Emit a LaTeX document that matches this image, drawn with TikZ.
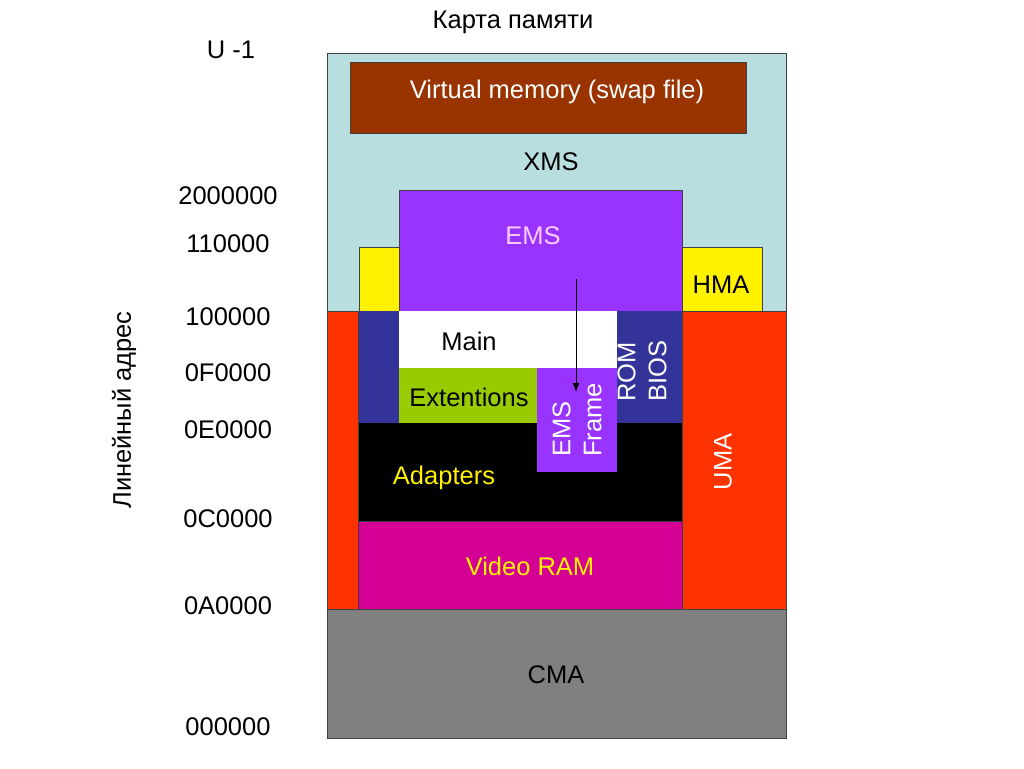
\documentclass[tikz,border=0pt]{standalone}
\usepackage{fontspec}
\setmainfont{Liberation Sans}
\usetikzlibrary{arrows.meta}
\definecolor{xmsblue}{HTML}{B8DEE0}
\definecolor{swapbrown}{HTML}{993300}
\definecolor{emspurple}{HTML}{9933FF}
\definecolor{umared}{HTML}{FF3300}
\definecolor{biosblue}{HTML}{333399}
\definecolor{extgreen}{HTML}{99CC00}
\definecolor{vramred}{HTML}{D40096}
\definecolor{cmagray}{HTML}{808080}
\definecolor{emspink}{HTML}{FFCCFF}

\begin{document}
\begin{tikzpicture}[x=1pt, y=-1pt,
  blk/.style={draw=black!75, line width=0.8pt},
  lbl/.style={font=\fontsize{25.5}{31}\selectfont, inner sep=0pt}]
\useasboundingbox (0,0) rectangle (1024,768);
% big areas
\filldraw[blk, fill=xmsblue] (327,53) rectangle (786,311);
\filldraw[blk, fill=umared] (327,311) rectangle (786,609);
\filldraw[blk, fill=cmagray] (327,609) rectangle (786,738);
\filldraw[blk, fill=swapbrown] (350,62) rectangle (746,133);
\filldraw[blk, fill=yellow] (359,247) rectangle (399,311);
\filldraw[blk, fill=yellow] (682,247) rectangle (762,311);
\filldraw[blk, fill=emspurple] (399,190) rectangle (682,311);
% first megabyte, upper part
\fill[biosblue] (358,311) rectangle (682,423);
\fill[white] (399,311) rectangle (617,368);
\fill[extgreen] (399,368) rectangle (537,423);
\fill[black] (358,423) rectangle (682,521);
\fill[emspurple] (537,368) rectangle (617,472);
\filldraw[blk, fill=vramred] (358,521) rectangle (682,609);
\draw[blk] (358,311) -- (358,521) (682,311) -- (682,521);

% texts in the map
\node[lbl, text=white] (swap) at (557,92) {Virtual memory (swap file)};
\node[lbl] (xms) at (551,162) {XMS};
\node[lbl, text=emspink] (ems) at (533,236) {EMS};
\node[lbl] (hma) at (721,285) {HMA};
\node[lbl] (main) at (469,341) {Main};
\node[lbl] (ext) at (469,397) {Extentions};
\node[lbl, text=white, rotate=90, align=left] (frame) at (577,420) {EMS\\Frame};
\node[lbl, text=white, rotate=90, align=left] (bios) at (642,371) {ROM\\BIOS};
\node[lbl, text=yellow] (adapt) at (444,478) {Adapters};
\node[lbl, text=white, rotate=90] (uma) at (723,462) {UMA};
\node[lbl, text=yellow] (vram) at (530,566) {Video RAM};
\node[lbl] (cma) at (556,675) {CMA};

% addresses
\node[lbl] (title) at (513,22) {Карта памяти};
\node[lbl] (top) at (231,50) {U -1};
\foreach \adr/\ypos in {2000000/196, 110000/244, 100000/317, 0F0000/373,
  0E0000/430, 0C0000/519, 0A0000/606, 000000/727}
  \node[lbl] (a\adr) at (228,\ypos) {\adr};
\node[lbl, rotate=90] (axis) at (124,410) {Линейный адрес};

% EMS page mapped into the frame
\coordinate (emsout) at (576,279);
\coordinate (emsin) at (576,392);
\draw[line width=0.9pt, -{Latex[length=9pt,width=7pt]}] (emsout) -- (emsin);
\end{tikzpicture}
\end{document}
